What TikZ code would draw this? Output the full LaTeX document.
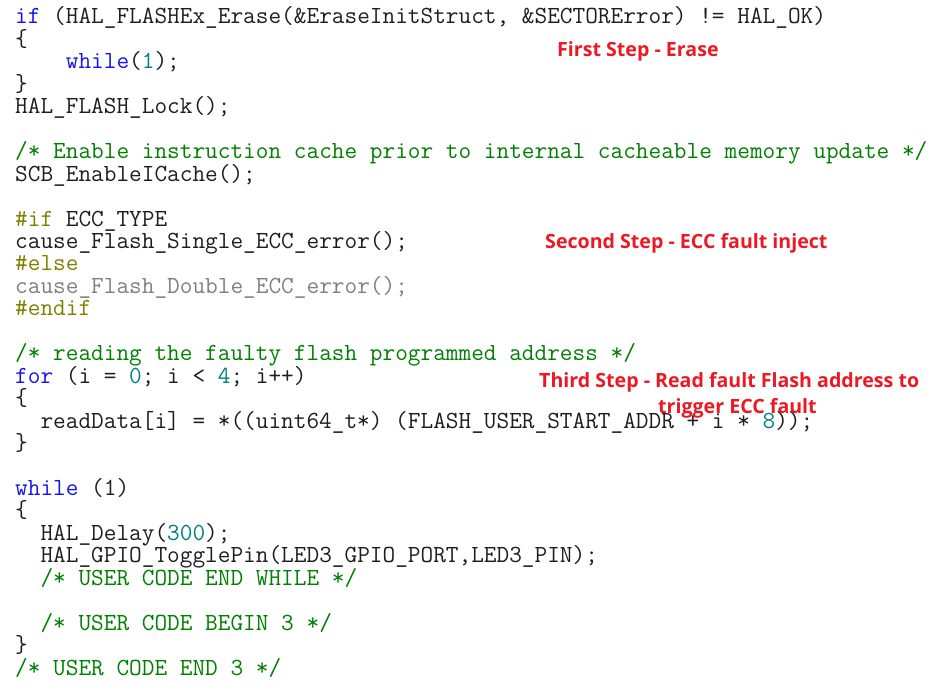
\documentclass[tikz,border=0pt]{standalone}
\usepackage{fontspec}
\newfontfamily\labfont{Open Sans}
\definecolor{kw}{RGB}{20,20,235}
\definecolor{num}{RGB}{0,128,128}
\definecolor{cm}{RGB}{0,128,0}
\definecolor{pp}{RGB}{128,128,0}
\definecolor{dis}{RGB}{128,128,128}
\definecolor{txt}{RGB}{30,30,30}
\definecolor{lab}{RGB}{235,25,35}
\newcommand{\K}[1]{\textcolor{kw}{#1}}
\newcommand{\N}[1]{\textcolor{num}{#1}}
\begin{document}
\begin{tikzpicture}[x=1pt,y=1pt,
  code/.style={anchor=base west,inner sep=0pt,font=\fontsize{24.6}{25}\ttfamily,text=txt},
  lbl/.style={anchor=base west,inner sep=0pt,font=\fontsize{19.6}{21}\labfont\bfseries,text=lab}]
\useasboundingbox (0,0) rectangle (942,-692);
\def\b#1{-24-(#1-1)*22.45}
\node[code] (l1) at (15,{\b{1}}) {\K{if} (HAL\_FLASHEx\_Erase(\&EraseInitStruct, \&SECTORError) != HAL\_OK)};
\node[code] (l2) at (15,{\b{2}}) {\{};
\node[code] (l3) at (15,{\b{3}}) {~~~~\K{while}(\N{1});};
\node[code] (l4) at (15,{\b{4}}) {\}};
\node[code] (l5) at (15,{\b{5}}) {HAL\_FLASH\_Lock();};
\node[code,text=cm] (l7) at (15,{\b{7}}) {/* Enable instruction cache prior to internal cacheable memory update */};
\node[code] (l8) at (15,{\b{8}}) {SCB\_EnableICache();};
\node[code] (l10) at (15,{\b{10}}) {\textcolor{pp}{\#if} ECC\_TYPE};
\node[code] (l11) at (15,{\b{11}}) {cause\_Flash\_Single\_ECC\_error();};
\node[code,text=pp] (l12) at (15,{\b{12}}) {\#else};
\node[code,text=dis] (l13) at (15,{\b{13}}) {cause\_Flash\_Double\_ECC\_error();};
\node[code,text=pp] (l14) at (15,{\b{14}}) {\#endif};
\node[code,text=cm] (l16) at (15,{\b{16}}) {/* reading the faulty flash programmed address */};
\node[code] (l17) at (15,{\b{17}}) {\K{for} (i = \N{0}; i < \N{4}; i++)};
\node[code] (l18) at (15,{\b{18}}) {\{};
\node[code] (l19) at (15,{\b{19}}) {~~readData[i] = *((uint64\_t*) (FLASH\_USER\_START\_ADDR + i * \N{8}));};
\node[code] (l20) at (15,{\b{20}}) {\}};
\node[code] (l22) at (15,{\b{22}}) {\K{while} (1)};
\node[code] (l23) at (15,{\b{23}}) {\{};
\node[code] (l24) at (15,{\b{24}}) {~~HAL\_Delay(\N{300});};
\node[code] (l25) at (15,{\b{25}}) {~~HAL\_GPIO\_TogglePin(LED3\_GPIO\_PORT,LED3\_PIN);};
\node[code,text=cm] (l26) at (15,{\b{26}}) {~~/* USER CODE END WHILE */};
\node[code,text=cm] (l28) at (15,{\b{28}}) {~~/* USER CODE BEGIN 3 */};
\node[code] (l29) at (15,{\b{29}}) {\}};
\node[code,text=cm] (l30) at (15,{\b{30}}) {/* USER CODE END 3 */};
\node[lbl] (s1) at (557,-57) {First Step - Erase};
\node[lbl] (s2) at (545,-249) {Second Step - ECC fault inject};
\node[lbl] (s3) at (539,-387) {Third Step - Read fault Flash address to};
\node[lbl] (s3b) at (658,-413) {trigger ECC fault};
\end{tikzpicture}
\end{document}
